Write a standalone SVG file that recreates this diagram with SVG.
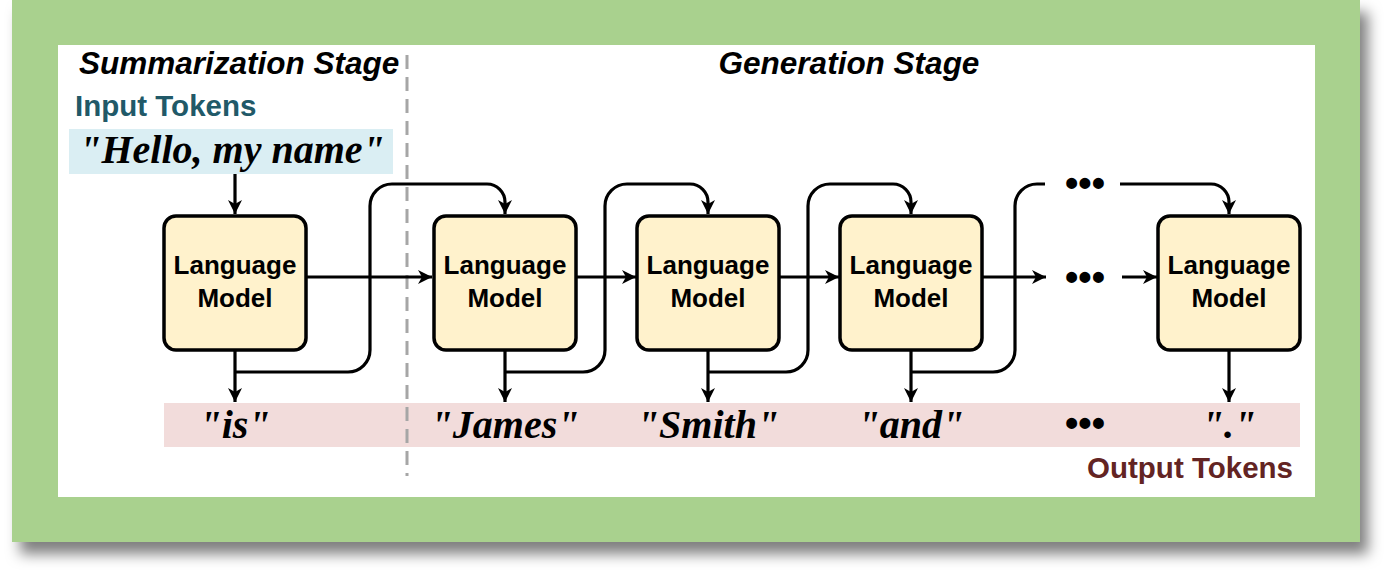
<svg xmlns="http://www.w3.org/2000/svg" width="1400" height="582" viewBox="0 0 1400 582">
  <defs>
    <filter id="shadow" x="-5%" y="-5%" width="115%" height="120%">
      <feDropShadow dx="8" dy="12" stdDeviation="7" flood-color="#000" flood-opacity="0.5"/>
    </filter>
    <marker id="arrow" markerUnits="userSpaceOnUse" markerWidth="16" markerHeight="14" refX="14" refY="7" orient="auto">
      <path d="M0,0 L14,7 L0,14 L4,7 Z" fill="#000"/>
    </marker>
    <style>
      .box { fill: #fff2cc; stroke: #000; stroke-width: 3.5; }
      .lbl { font-family: "Liberation Sans", Arial, sans-serif; font-weight: bold; font-size: 26px; text-anchor: middle; fill: #000; }
      .tok { font-family: "Liberation Serif", "Times New Roman", serif; font-weight: bold; font-style: italic; font-size: 40px; text-anchor: middle; fill: #000; }
      .stage { font-family: "Liberation Sans", Arial, sans-serif; font-weight: bold; font-style: italic; font-size: 31.5px; fill: #000; }
      .head { font-family: "Liberation Sans", Arial, sans-serif; font-weight: bold; font-size: 29.5px; }
      .dots { font-family: "Liberation Sans", Arial, sans-serif; font-weight: bold; font-size: 38px; text-anchor: middle; fill: #000; }
      .line { fill: none; stroke: #000; stroke-width: 3.2; }
      .arr { fill: none; stroke: #000; stroke-width: 3.2; marker-end: url(#arrow); }
    </style>
  </defs>

  <!-- frame -->
  <rect x="12" y="0" width="1348" height="542" fill="#a9d18e" filter="url(#shadow)"/>
  <rect x="58" y="45" width="1257" height="452" fill="#ffffff"/>

  <!-- bands -->
  <rect x="69" y="129" width="324" height="45" fill="#daeef3"/>
  <rect x="164" y="403" width="1136" height="44" fill="#f2dcdb"/>

  <!-- stage divider -->
  <line x1="407" y1="55" x2="407" y2="476" stroke="#a6a6a6" stroke-width="3" stroke-dasharray="14,8"/>

  <!-- headings -->
  <text class="stage" x="79" y="74">Summarization Stage</text>
  <text class="stage" x="849" y="74" text-anchor="middle">Generation Stage</text>
  <text class="head" x="75" y="116" fill="#215968">Input Tokens</text>
  <text class="head" x="1293" y="478" fill="#632423" text-anchor="end">Output Tokens</text>
  <text class="tok" x="232" y="163">"Hello, my name"</text>

  <!-- connectors -->
  <g id="connectors">
    <path class="arr" d="M235,174 V214"/>
    <path class="arr" d="M306,277 H432"/>
    <path class="arr" d="M576,277 H636"/>
    <path class="arr" d="M780,277 H839"/>
    <path class="arr" d="M983,277 H1046"/>
    <path class="arr" d="M1122,277 H1157"/>

    <path class="arr" d="M235,350 V402"/>
    <path class="arr" d="M505,350 V402"/>
    <path class="arr" d="M708,350 V402"/>
    <path class="arr" d="M911,350 V402"/>
    <path class="arr" d="M1229,350 V402"/>

    <path class="arr" d="M235,372 H348 A22,22 0 0 0 370,350 V206 A22,22 0 0 1 392,184 H487 A18,18 0 0 1 505,202 V214"/>
    <path class="arr" d="M505,372 H583 A22,22 0 0 0 605,350 V206 A22,22 0 0 1 627,184 H690 A18,18 0 0 1 708,202 V214"/>
    <path class="arr" d="M708,372 H786 A22,22 0 0 0 808,350 V206 A22,22 0 0 1 830,184 H893 A18,18 0 0 1 911,202 V214"/>
    <path class="line" d="M911,372 H993 A22,22 0 0 0 1015,350 V206 A22,22 0 0 1 1037,184 H1045"/>
    <path class="arr" d="M1120,184 H1211 A18,18 0 0 1 1229,202 V214"/>
  </g>

  <!-- nodes -->
  <g id="lm1">
    <rect class="box" x="164" y="216" width="142" height="134" rx="12"/>
    <text class="lbl" x="235" y="274">Language</text>
    <text class="lbl" x="235" y="307">Model</text>
  </g>
  <g id="lm2">
    <rect class="box" x="434" y="216" width="142" height="134" rx="12"/>
    <text class="lbl" x="505" y="274">Language</text>
    <text class="lbl" x="505" y="307">Model</text>
  </g>
  <g id="lm3">
    <rect class="box" x="637" y="216" width="142" height="134" rx="12"/>
    <text class="lbl" x="708" y="274">Language</text>
    <text class="lbl" x="708" y="307">Model</text>
  </g>
  <g id="lm4">
    <rect class="box" x="840" y="216" width="142" height="134" rx="12"/>
    <text class="lbl" x="911" y="274">Language</text>
    <text class="lbl" x="911" y="307">Model</text>
  </g>
  <g id="lm5">
    <rect class="box" x="1158" y="216" width="142" height="134" rx="12"/>
    <text class="lbl" x="1229" y="274">Language</text>
    <text class="lbl" x="1229" y="307">Model</text>
  </g>

  <!-- ellipses -->
  <text class="dots" x="1085" y="196">•••</text>
  <text class="dots" x="1085" y="290">•••</text>
  <text class="dots" x="1085" y="436">•••</text>

  <!-- output tokens -->
  <g id="outputs">
    <text class="tok" x="235" y="438">"is"</text>
    <text class="tok" x="505" y="438">"James"</text>
    <text class="tok" x="708" y="438">"Smith"</text>
    <text class="tok" x="911" y="438">"and"</text>
    <text class="tok" x="1229" y="438">"."</text>
  </g>
</svg>
